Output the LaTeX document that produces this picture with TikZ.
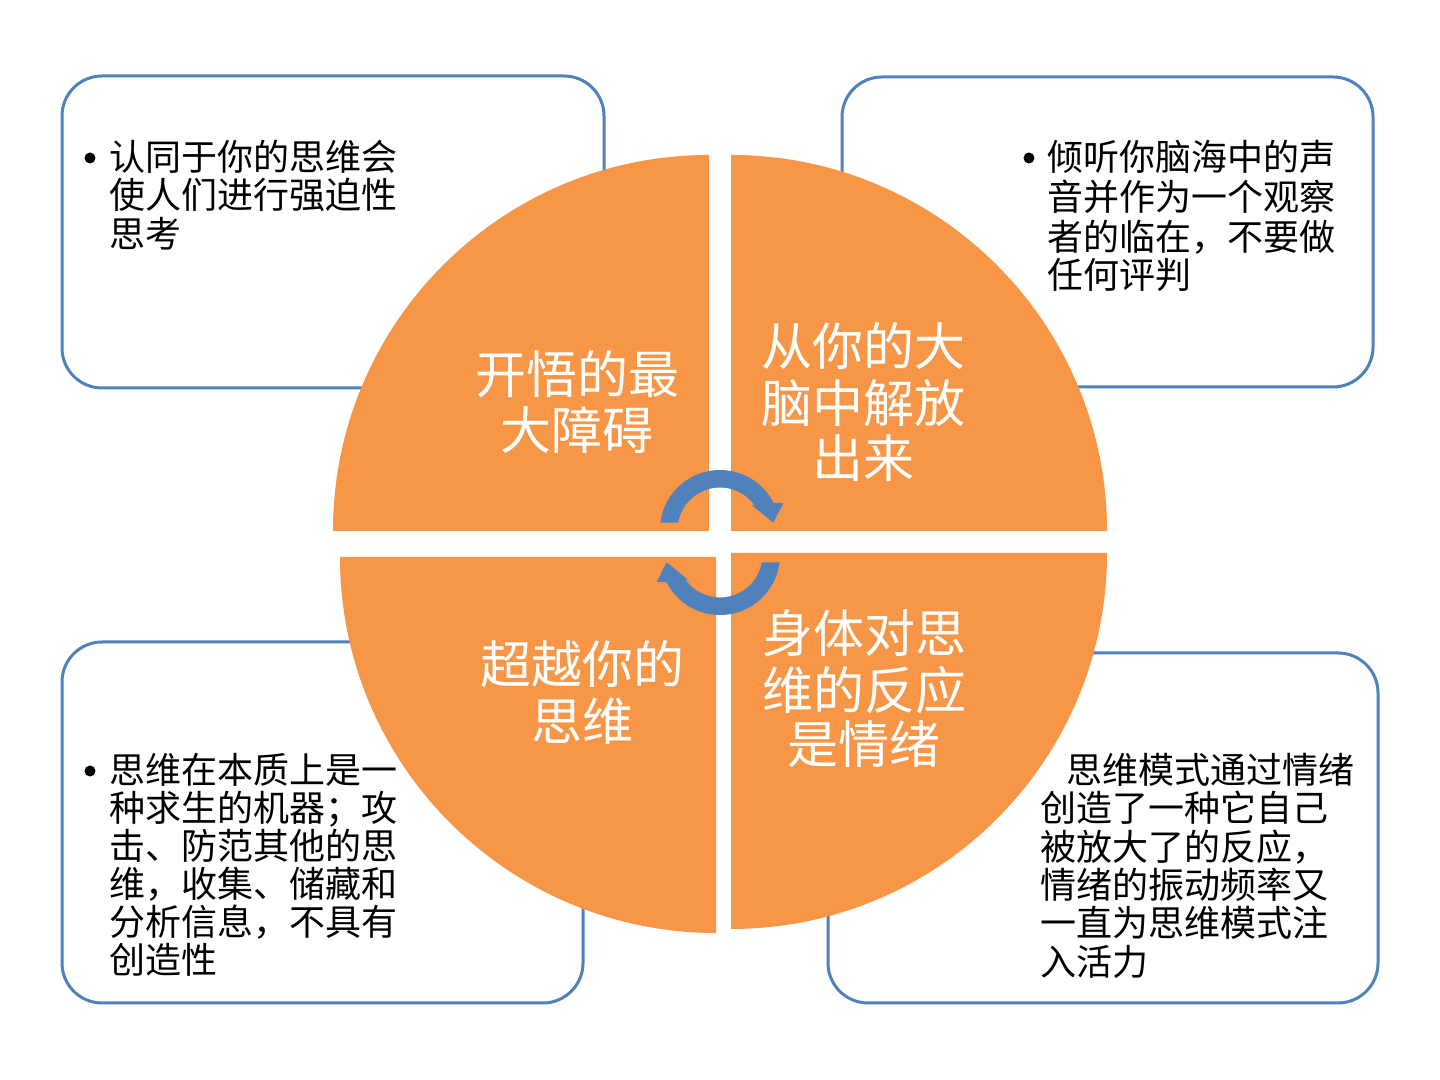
\documentclass[tikz,border=0pt]{standalone}
\usepackage{fontspec}
\newfontfamily\cjk{Noto Sans CJK SC}
\newfontfamily\lsans{Liberation Sans}
\definecolor{qorange}{HTML}{F79646}
\definecolor{qblue}{HTML}{4F81BD}
\tikzset{
  card/.style={draw=qblue, line width=1.5pt, fill=white, rounded corners=20pt},
  quad/.style={fill=qorange},
  cyc/.style={fill=qblue},
  boxtxt/.style={anchor=base west, inner sep=0pt, font=\cjk\fontsize{18pt}{19.5pt}\selectfont, text=black},
  quadtxt/.style={anchor=base, inner sep=0pt, font=\cjk\fontsize{25.5pt}{28pt}\selectfont, text=white},
  bul/.style={circle, fill=black, inner sep=0pt, minimum size=5.5pt},
}
\begin{document}
\begin{tikzpicture}[x=0.5pt,y=0.5pt]
\useasboundingbox (0,0) rectangle (1440,1080);
\fill[white] (0,0) rectangle (1440,1080);
% cards
\draw[card] (62,692) rectangle (604,1004);
\draw[card] (842,693) rectangle (1373,1003);
\draw[card] (62,77) rectangle (583,438);
\draw[card] (828,77) rectangle (1378,427);
% quadrants
\fill[quad] (709,549) -- (333,549) arc[start angle=180, end angle=90, radius=376] -- cycle;
\fill[quad] (731,549) -- (1107,549) arc[start angle=0, end angle=90, radius=376] -- cycle;
\fill[quad] (716,523) -- (340,523) arc[start angle=180, end angle=270, radius=376] -- cycle;
\fill[quad] (731,527) -- (1107,527) arc[start angle=0, end angle=-90, radius=376] -- cycle;
% cycle arrows
\begin{scope}[shift={(720,550)}]
\fill[cyc] (173:60) arc[start angle=173, end angle=27, radius=60] -- (63.3,26.7) -- (53.3,7.3) -- (31.7,25) -- (35:42.5) arc[start angle=35, end angle=170, radius=42.5] -- cycle;
\end{scope}
\begin{scope}[shift={(720,525)}, rotate=180]
\fill[cyc] (173:60) arc[start angle=173, end angle=27, radius=60] -- (63.3,26.7) -- (53.3,7.3) -- (31.7,25) -- (35:42.5) arc[start angle=35, end angle=170, radius=42.5] -- cycle;
\end{scope}
% quadrant texts
\node[quadtxt] (q1a) at (577,686) {开悟的最};
\node[quadtxt] (q1b) at (577,630) {大障碍};
\node[quadtxt] (q2a) at (863,714) {从你的大};
\node[quadtxt] (q2b) at (863,657) {脑中解放};
\node[quadtxt] (q2c) at (863,602) {出来};
\node[quadtxt] (q3a) at (582,396) {超越你的};
\node[quadtxt] (q3b) at (582,339) {思维};
\node[quadtxt] (q4a) at (864,427) {身体对思};
\node[quadtxt] (q4b) at (864,370) {维的反应};
\node[quadtxt] (q4c) at (864,316) {是情绪};
% top-left card text
\node[bul] (b1) at (90,922) {};
\node[boxtxt] (t1a) at (109,909.6) {认同于你的思维会};
\node[boxtxt] (t1b) at (109,871.3) {使人们进行强迫性};
\node[boxtxt] (t1c) at (109,832.3) {思考};
% top-right card text
\node[bul] (b2) at (1029,922) {};
\node[boxtxt] (t2a) at (1047,909.6) {倾听你脑海中的声};
\node[boxtxt] (t2b) at (1047,869.6) {音并作为一个观察};
\node[boxtxt] (t2c) at (1047,829.6) {者的临在，不要做};
\node[boxtxt] (t2d) at (1047,791.3) {任何评判};
% bottom-left card text
\node[bul] (b3) at (90,309) {};
\node[boxtxt] (t3a) at (109,296.3) {思维在本质上是一};
\node[boxtxt] (t3b) at (109,258.3) {种求生的机器；攻};
\node[boxtxt] (t3c) at (109,220.3) {击、防范其他的思};
\node[boxtxt] (t3d) at (109,182.3) {维，收集、储藏和};
\node[boxtxt] (t3e) at (109,144.3) {分析信息，不具有};
\node[boxtxt] (t3f) at (109,106.3) {创造性};
% bottom-right card text
\node[boxtxt] (t4a) at (1066,296.3) {思维模式通过情绪};
\node[boxtxt] (t4b) at (1040.5,258.3) {创造了一种它自己};
\node[boxtxt] (t4c) at (1040.5,219.3) {被放大了的反应，};
\node[boxtxt] (t4d) at (1040.5,181.3) {情绪的振动频率又};
\node[boxtxt] (t4e) at (1040.5,143.3) {一直为思维模式注};
\node[boxtxt] (t4f) at (1040.5,104.3) {入活力};
\end{tikzpicture}
\end{document}
